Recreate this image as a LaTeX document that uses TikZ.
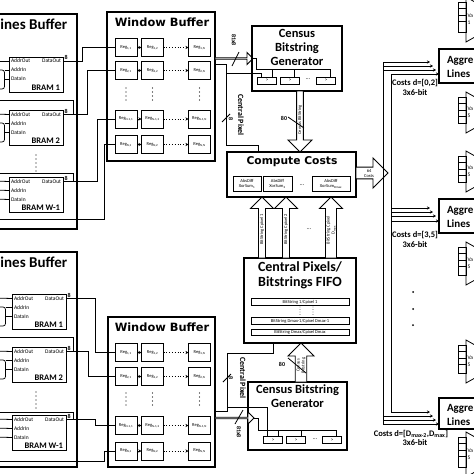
\documentclass[tikz,border=0pt]{standalone}
\usepackage{fontspec}
\setmainfont{Carlito}
\newfontfamily\verdfont{DejaVu Sans}
\usetikzlibrary{shapes.arrows,arrows.meta}
\newcommand{\fsz}[2]{\fontsize{#1}{#2}\selectfont}

% one BRAM with its ports
\newcommand{\bramunit}[4]{%
  \node (#1) [bram] at (#2,#3) {};
  \node (#1ao) [port, anchor=west] at ([xshift=2pt,yshift=-4pt]#1.north west) {AddrOut};
  \node (#1ai) [port, anchor=west] at ([xshift=2pt,yshift=-13pt]#1.north west) {AddrIn};
  \node (#1di) [port, anchor=west] at ([xshift=2pt,yshift=-22pt]#1.north west) {DataIn};
  \node (#1do) [port, anchor=east] at ([xshift=-2pt,yshift=-4pt]#1.north east) {DataOut};
  \node (#1n) [bname, anchor=south east] at ([xshift=-3pt,yshift=2pt]#1.south east) {#4};
  \node (#1w) [tag, anchor=south west] at ([xshift=1.5pt,yshift=-3pt]#1.north east) {8};
}
% one row of the window buffer
\newcommand{\regrow}[3]{%
  \node (#1a) [reg] at (126,#2) {Reg\textsubscript{#3,1}};
  \node (#1b) [reg] at (152.5,#2) {Reg\textsubscript{#3,2}};
  \node (#1c) [reg] at (199.5,#2) {Reg\textsubscript{#3,N}};
  \draw[arr] (#1a) -- (#1b);
  \draw[arr, dotted] (#1b) -- (#1c);
}
% vertical aggregation unit on the right edge
\newcommand{\vagg}[4]{%
  \draw (458,#2+5) rectangle (466,#3-10);
  \draw (458,#2+11.5) -- (466,#2+11.5) (458,#2+18) -- (466,#2+18) (458,#2+24.5) -- (466,#2+24.5);
  \draw (466,#2) -- (482,#2+9) -- (482,#3-9) -- (466,#3) -- cycle;
  \node (#1) [vtext, anchor=west] at (467.5,#2/2+#3/2) {Va\\#4};
}

\begin{document}
\begin{tikzpicture}[x=1pt, y=-1pt, line width=0.8pt,
  every node/.style={align=center, inner sep=0pt, outer sep=0pt},
  bufbox/.style={draw, line width=1.1pt},
  bram/.style={draw, line width=0.9pt, minimum width=54pt, minimum height=35pt},
  port/.style={font=\fsz{5.5}{6}},
  bname/.style={font=\bfseries\fsz{8.5}{9}},
  reg/.style={draw, line width=0.9pt, minimum width=22pt, minimum height=18pt, font=\fsz{4.5}{5}},
  cmp/.style={draw, line width=0.6pt, minimum width=19pt, minimum height=7pt, font=\fsz{5}{5}},
  inbox/.style={draw, line width=0.7pt, minimum height=15pt, font=\fsz{4.5}{5}},
  rowbox/.style={draw, line width=0.7pt, minimum width=98pt, minimum height=6.5pt, font=\fsz{4.5}{5}},
  mux/.style={draw, rounded corners=2.5pt, line width=0.7pt, minimum width=11pt, minimum height=19pt},
  blk/.style={single arrow, draw, line width=0.9pt, fill=white, inner sep=0pt, font=\fsz{4.5}{5}},
  tag/.style={font=\bfseries\fsz{6}{6}},
  vtext/.style={font=\fsz{5.5}{7}, align=left},
  cplabel/.style={font=\bfseries\fsz{8}{8}, rotate=-90},
  btitle/.style={font=\bfseries\fsz{15}{16}},
  wtitle/.style={font=\verdfont\bfseries\fsz{11.4}{12}},
  gtitle/.style={font=\bfseries\fsz{12.5}{14}},
  ftitle/.style={font=\bfseries\fsz{14}{15}},
  atitle/.style={font=\bfseries\fsz{11}{14}, align=left},
  ctitle/.style={font=\bfseries\fsz{8.5}{10}},
  arr/.style={-{Stealth[length=3pt,width=3pt]}},
  vdots/.style={dash pattern=on 0pt off 4pt, line cap=round, line width=1.1pt}
]
\useasboundingbox (0,0) rectangle (474,474);

% ---------------- upper half ----------------
\node (lbufA) [bufbox, minimum width=89pt, minimum height=215pt] at (32.5,121.5) {};
\node (lbufAt) [btitle, anchor=west] at (0.5,24) {ines Buffer};
\bramunit{bramA1}{36}{74.5}{BRAM 1}
\bramunit{bramA2}{36}{128}{BRAM 2}
\bramunit{bramA3}{36}{195}{BRAM W-1}
\node (muxA1) [mux] at (-1,79.5) {};
\node (muxA2) [mux] at (-1,132.5) {};
\draw[vdots] (36,155) -- (36,171);

\draw (-5,61) -- (bramA1.west |- bramA1ao);
\draw (muxA1.east |- bramA1ai) -- (bramA1.west |- bramA1ai);
\draw (muxA1.east |- bramA1di) -- (bramA1.west |- bramA1di);
\draw (-5,114) -- (bramA2.west |- bramA2ao);
\draw (muxA2.east |- bramA2ai) -- (bramA2.west |- bramA2ai);
\draw (muxA2.east |- bramA2di) -- (bramA2.west |- bramA2di);
\draw (-5,181) -- (bramA3.west |- bramA3ao);
\draw (-5,190) -- (bramA3.west |- bramA3ai);
\draw (-5,199) -- (bramA3.west |- bramA3di);
\draw (-5,100) -| (73,0 |- bramA2do);
\draw (-5,173) -| (73,0 |- bramA3do);

\node (wbufA) [bufbox, minimum width=108pt, minimum height=149pt] at (161,86.5) {};
\node (wbufAt) [wtitle] at (162,22) {Window Buffer};
\regrow{regA1}{47.5}{1}
\regrow{regA2}{70.5}{2}
\regrow{regA3}{119}{N-1}
\regrow{regA4}{144.5}{N}
\draw[vdots] (126,88) -- (126,101) (152.5,88) -- (152.5,101) (199.5,88) -- (199.5,101);

\draw (bramA1.east |- bramA1do) -| ([xshift=-33pt]regA1a.west) -- (regA1a.west);
\draw (bramA2.east |- bramA2do) -| ([xshift=-28pt]regA2a.west) -- (regA2a.west);
\draw (bramA3.east |- bramA3do) -| ([xshift=-18pt]regA3a.west) -- (regA3a.west);
\draw (-5,219) -| ([xshift=-11pt]regA4a.west) -- (regA4a.west);

% window to census generator
\node (busA) [blk, anchor=tail, minimum height=38pt, minimum width=12pt, single arrow head extend=3pt] at (wbufA.east |- 0,58.5) {};
\draw (232,66) -- (239,52);
\node (busAl) [tag, rotate=-90] at (234,40) {81x8};

\node (genA) [bufbox, minimum width=90pt, minimum height=65pt] at (297,58.5) {};
\node (genAt) [gtitle] at (297,47) {Census\\Bitstring\\Generator};
\node (cmpA1) [cmp] at (267,80.5) {>};
\node (cmpA2) [cmp] at (290,80.5) {>};
\node (cmpA3) [cmp] at (326,80.5) {>};
\node (cmpAd) [font=\fsz{6}{6}] at (308,79) {\ldots};
\draw (busA.tip) -- (256,58.5) |- (330,69);
\draw (272,69) -- (cmpA1.north -| 272,0);
\draw (294,69) -- (cmpA2.north -| 294,0);
\draw (330,69) -- (cmpA3.north -| 330,0);

% central pixel to compute costs
\node (ccA) [bufbox, minimum width=129pt, minimum height=45pt] at (291.5,174.5) {};
\draw (wbufA.east |- 0,64) -| (226,145) -| ([xshift=-33pt]ccA.north);
\draw (226,73) -| ([xshift=4pt]cmpA1.north west);
\draw (222,122) -- (230,114);
\node (cpA8) [tag, rotate=-90] at (231,119) {8};
\node (cpAl) [cplabel] at (241,115) {Central Pixel};

\node (cbA) [blk, rotate=90, shape border rotate=180, anchor=tail, minimum height=61pt, minimum width=24pt, single arrow head extend=6pt] at (genA.south -| 300,0) {Census BitString};
\draw (288,117) -- (304,128);
\node (cbA80) [tag] at (284,118) {80};

\node (ccAt) [wtitle, font=\verdfont\bfseries\fsz{10.7}{12}] at (292,162) {Compute Costs};
\node (adA1) [inbox, minimum width=28pt] at (247,183.5) {AbsDiff\\XorSum\textsubscript{1}};
\node (adA2) [inbox, minimum width=29pt] at (277.5,183.5) {AbsDiff\\XorSum\textsubscript{2}};
\node (adA3) [inbox, minimum width=38pt] at (331,183.5) {AbsDiff\\XorSum\textsubscript{Dmax}};
\node (adAd) [font=\fsz{6}{6}] at (302,185) {\ldots};

\node (costsA) [blk, anchor=tail, minimum height=32pt, minimum width=30pt, single arrow head extend=7pt] at (ccA.east |- 0,173) {64\\Costs};

% ---------------- lower half ----------------
\node (lbufB) [bufbox, minimum width=89pt, minimum height=215pt] at (32.5,359.5) {};
\node (lbufBt) [btitle, anchor=west] at (0.5,262) {ines Buffer};
\bramunit{bramB1}{39}{312}{BRAM 1}
\bramunit{bramB2}{39}{365}{BRAM 2}
\bramunit{bramB3}{39}{433}{BRAM W-1}
\node (muxB1) [mux] at (0,316.5) {};
\node (muxB2) [mux] at (0,369.5) {};
\draw[vdots] (36,392) -- (36,408);

\draw (-5,298) -- (bramB1.west |- bramB1ao);
\draw (muxB1.east |- bramB1ai) -- (bramB1.west |- bramB1ai);
\draw (muxB1.east |- bramB1di) -- (bramB1.west |- bramB1di);
\draw (-5,351) -- (bramB2.west |- bramB2ao);
\draw (muxB2.east |- bramB2ai) -- (bramB2.west |- bramB2ai);
\draw (muxB2.east |- bramB2di) -- (bramB2.west |- bramB2di);
\draw (-5,419) -- (bramB3.west |- bramB3ao);
\draw (-5,428) -- (bramB3.west |- bramB3ai);
\draw (-5,437) -- (bramB3.west |- bramB3di);
\draw (-5,337) -| (73,0 |- bramB2do);
\draw (-5,412) -| (73,0 |- bramB3do);

\node (wbufB) [bufbox, minimum width=107pt, minimum height=150pt] at (161.5,392) {};
\node (wbufBt) [wtitle] at (162,327) {Window Buffer};
\regrow{regB1}{352.5}{1}
\regrow{regB2}{376.5}{2}
\regrow{regB3}{425.5}{N-1}
\regrow{regB4}{451}{N}
\draw[vdots] (126,393) -- (126,406) (152.5,393) -- (152.5,406) (199.5,393) -- (199.5,406);

\draw (bramB1.east |- bramB1do) -| ([xshift=-20pt]regB1a.west) -- (regB1a.west);
\draw (bramB2.east |- bramB2do) -| ([xshift=-27pt]regB2a.west) -- (regB2a.west);
\draw (bramB3.east |- bramB3do) -| ([xshift=-20pt]regB3a.west) -- (regB3a.west);
\draw (-5,461) -| ([xshift=-11pt]regB4a.west) -- (regB4a.west);

\node (genB) [bufbox, minimum width=99pt, minimum height=68pt] at (297.5,416) {};
\node (genBt) [gtitle] at (297.5,396) {Census Bitstring\\Generator};
\node (cmpB1) [cmp] at (273,440) {>};
\node (cmpB2) [cmp] at (296,440) {>};
\node (cmpB3) [cmp] at (332,440) {>};
\node (cmpBd) [font=\fsz{6}{6}] at (315,439) {\ldots};

\node (busB) [blk, anchor=tail, minimum height=39pt, minimum width=12pt, single arrow head extend=3pt] at (wbufB.east |- 0,418) {};
\draw (235,424) -- (243,410);
\node (busBl) [tag, rotate=-90] at (239,432) {81x8};
\draw (busB.tip) -- (258,418) |- (336,430);
\draw (278,430) -- (cmpB1.north -| 278,0);
\draw (301,430) -- (cmpB2.north -| 301,0);
\draw (336,430) -- (cmpB3.north -| 336,0);

\node (fifo) [bufbox, minimum width=112pt, minimum height=85pt] at (300,300.5) {};
\node (fifot) [ftitle] at (300,275.5) {Central Pixels/\\Bitstrings FIFO};
\node (fifoR1) [rowbox] at (300,302) {BitString 1/Cpixel 1};
\node (fifoR2) [rowbox] at (300,321) {BitString Dmax-1/Cpixel Dmax-1};
\node (fifoR3) [rowbox] at (300,332.5) {BitString Dmax/Cpixel Dmax};
\draw[vdots, line width=0.8pt, dash pattern=on 0pt off 2.5pt] (300,307) -- (300,316) (313,307) -- (313,316);

\draw (wbufB.east |- 0,411) -| (227,353) -| ([xshift=-27pt]fifo.south);
\draw (227,407) -| ([xshift=4pt]cmpB1.north west);
\draw (223,382) -- (231,374);
\node (cpB8) [tag, rotate=-90] at (231,378) {8};
\node (cpBl) [cplabel] at (243,378) {Central Pixel};

\node (cbB) [blk, rotate=90, anchor=tail, minimum height=39pt, minimum width=26pt, single arrow head extend=6pt] at (genB.north -| 301,0) {Census\\Bitstring};
\draw (288,358) -- (306,373);
\node (cbB80) [tag] at (282,364) {80};

% FIFO to compute costs
\node (upA1) [blk, rotate=90, anchor=tail, minimum height=61pt, minimum width=23pt, single arrow head extend=5.5pt] at (fifo.north -| 262,0) {BitString Cpixel 1};
\node (upA2) [blk, rotate=90, anchor=tail, minimum height=61pt, minimum width=23pt, single arrow head extend=5.5pt] at (fifo.north -| 286,0) {BitString Cpixel 2};
\node (upA3) [blk, rotate=90, anchor=tail, minimum height=61pt, minimum width=23pt, single arrow head extend=5.5pt] at (fifo.north -| 331,0) {BitString Cpixel\\D\textsubscript{max}};
\node (upAd) [font=\fsz{6}{6}] at (309,229) {\ldots};

% ---------------- cost bus and aggregation ----------------
\node (aggA) [bufbox, minimum width=60pt, minimum height=34pt, anchor=north west] at (439,49) {};
\node (aggAt) [atitle, anchor=west] at (447,67) {Aggre\\Lines};
\node (aggB) [bufbox, minimum width=60pt, minimum height=34pt, anchor=north west] at (439,199) {};
\node (aggBt) [atitle, anchor=west] at (447,217) {Aggre\\Lines};
\node (aggC) [bufbox, minimum width=60pt, minimum height=31pt, anchor=north west] at (439,398) {};
\node (aggCt) [atitle, anchor=west] at (447,414.5) {Aggre\\Lines};

\draw (383,62) -- (383,424);
\draw (391,74) -- (391,412);
\draw[arr] (383,62) -- (430,62);
\draw[arr] (383,66) -- (433,66);
\draw[arr] (383,70) -- (436,70);
\draw[arr] (391,74) -- (aggA.west |- 0,74);
\draw[arr] (391,208) -- (430,208);
\draw[arr] (391,212) -- (433,212);
\draw[arr] (391,216) -- (436,216);
\draw[arr] (391,221) -- (aggB.west |- 0,221);
\draw[arr] (391,412) -- (430,412);
\draw[arr] (383,416) -- (433,416);
\draw[arr] (383,420) -- (436,420);
\draw[arr] (383,424) -- (aggC.west |- 0,424);

\node (csA) [ctitle] at (415,83) {Costs d=[0,2]};
\node (bwA) [ctitle] at (415,93) {3x6-bit};
\node (csB) [ctitle] at (415,235) {Costs d=[3,5]};
\node (bwB) [ctitle] at (415,245) {3x6-bit};
\node (csC) [ctitle] at (411,434) {Costs d=[D\textsubscript{max-2},D\textsubscript{max}]};
\node (bwC) [ctitle] at (415,443) {3x6-bit};
\fill (413,292) circle (1) (413,309) circle (1) (413,325) circle (1);

\vagg{vaA}{-3}{42}{1}
\vagg{vaB}{92}{133}{5}
\vagg{vaC}{151}{192}{5}
\vagg{vaD}{242}{285}{5}
\vagg{vaE}{340}{383}{5}
\vagg{vaF}{432}{477}{5}
\end{tikzpicture}
\end{document}
